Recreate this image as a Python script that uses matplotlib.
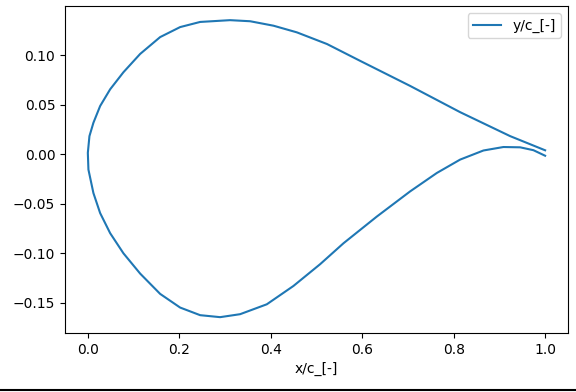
import matplotlib
matplotlib.use("Agg")
import matplotlib.pyplot as plt
from matplotlib.lines import Line2D

# airfoil coordinates (Selig order: TE -> upper -> LE -> lower -> TE)
x_upper = [1.000, 0.9235, 0.8141, 0.7048, 0.5955, 0.523, 0.457, 0.406, 0.355, 0.311,
           0.2456, 0.2018, 0.1581, 0.1144, 0.0778, 0.0488, 0.0269, 0.0122, 0.0035, 0.0]
y_upper = [0.0040, 0.0183, 0.0425, 0.0690, 0.0943, 0.1113, 0.1231, 0.1298, 0.1343, 0.1354,
           0.1336, 0.1284, 0.1183, 0.1013, 0.0828, 0.0656, 0.0487, 0.0318, 0.0183, 0.0014]
x_lower = [0.0013, 0.0122, 0.0269, 0.0488, 0.0778, 0.1144, 0.1581, 0.2018, 0.2456, 0.2893,
           0.333, 0.3914, 0.4496, 0.508, 0.559, 0.632, 0.7048, 0.7632, 0.8141, 0.8651,
           0.9088, 0.9453, 0.9744, 1.000]
y_lower = [-0.0155, -0.0392, -0.0594, -0.0797, -0.1000, -0.1205, -0.1410, -0.1548, -0.1625, -0.1645,
           -0.1615, -0.1515, -0.1330, -0.1110, -0.0899, -0.0629, -0.0375, -0.0189, -0.0054, 0.0038,
           0.0073, 0.0070, 0.0041, -0.0015]

x = x_upper + x_lower
y = y_upper + y_lower

fig = plt.figure(figsize=(5.76, 3.92), dpi=100)
ax = fig.add_axes([0.1128, 0.1505, 0.8733, 0.8342])
ax.plot(x, y, color="#1f77b4", linewidth=1.5, label="y/c_[-]")
ax.set_xlim(-0.05, 1.05)
ax.set_ylim(-0.1805, 0.1497)
ax.set_xlabel("x/c_[-]")
ax.legend(loc="upper right")

# screenshot border at the bottom
fig.add_artist(Line2D([0, 1], [0.004, 0.004], transform=fig.transFigure, color="black", linewidth=1.5))

fig.savefig("out.png", dpi=100)
